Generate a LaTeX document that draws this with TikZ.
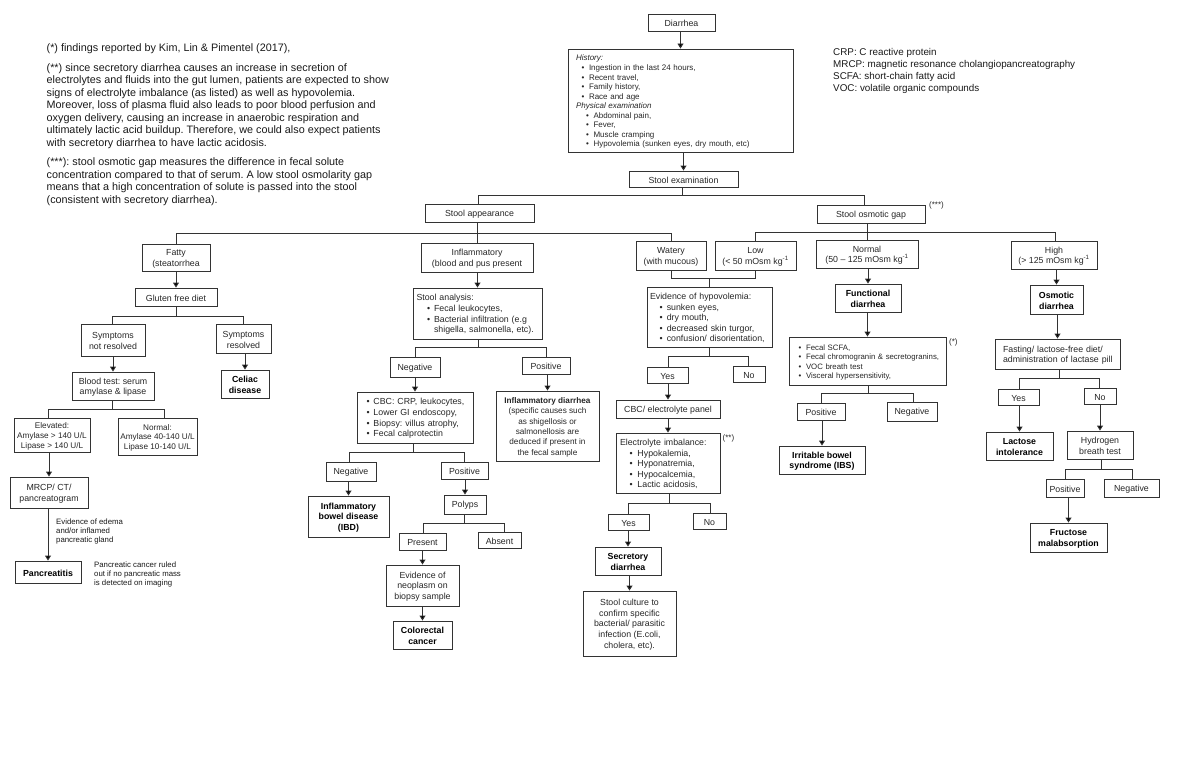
\documentclass[tikz,border=0pt]{standalone}
\usepackage{fontspec}
\setmainfont{Liberation Sans}
\usetikzlibrary{arrows.meta}
\newcommand{\fs}[2]{\fontsize{#1}{#2}\selectfont}
\tikzset{
  box/.style={draw=black!80,line width=0.9pt,inner sep=0pt,align=center,text=black!85,font=\fs{8.8}{10.6}},
  mainbox/.style={font=\fs{8.8}{10.6}\bfseries,text=black},
  conn/.style={draw=black!80,line width=0.9pt},
  arrow/.style={conn,-{Triangle[length=5pt,width=6pt,fill=black]}},
  note/.style={inner sep=0pt,anchor=north west,align=left,text=black!90},
  refmark/.style={inner sep=0pt,anchor=west,text=black!85,font=\fs{8}{9.6}}
}
\newcommand{\bx}[7][]{\node[box,minimum width={(#5-#3)*1pt},minimum height={(#6-#4)*1pt},#1] (#2) at ({(#3+#5)/2},{(#4+#6)/2}) {\rule{0pt}{8.5pt}#7};}
\newcommand{\lbx}[8][]{\pgfmathsetmacro{\mytw}{#5-#3-2*#7}\node[box,align=left,text width=\mytw pt,inner xsep=#7pt,minimum height={(#6-#4)*1pt},#1] (#2) at ({(#3+#5)/2},{(#4+#6)/2}) {\rule{0pt}{8.5pt}#8};}
\newcommand{\bul}[3]{\hspace*{#1pt}\makebox[#2pt][l]{\textbullet}\makebox[0pt][l]{#3}}
\newcommand{\nw}[1]{\makebox[0pt][l]{#1}}
\newcommand{\arr}[2]{\draw[arrow] (#1.south -| #2.north) -- (#2.north);}
\newcommand{\bus}[3]{\coordinate (#1-bus) at (#2,#3);\draw[conn] (#1.south -| #1-bus) -- (#1-bus);}
\newcommand{\drop}[3]{\coordinate (#2-top) at (#3,0);\draw[conn] (#1-bus) -| (#2-top |- #2.north);}
\begin{document}
\frenchspacing
\begin{tikzpicture}[x=1pt,y=-1pt]
\useasboundingbox (0,0) rectangle (1200,776);
% notes
\node[note,font=\fs{10.8}{12.45}] (noteA) at (46.5,43.3) {(*) findings reported by Kim, Lin \& Pimentel (2017),};
\node[note,font=\fs{10.8}{12.45}] (noteB) at (46.5,63.3) {(**) since secretory diarrhea causes an increase in secretion of\\electrolytes and fluids into the gut lumen, patients are expected to show\\signs of electrolyte imbalance (as listed) as well as hypovolemia.\\Moreover, loss of plasma fluid also leads to poor blood perfusion and\\oxygen delivery, causing an increase in anaerobic respiration and\\ultimately lactic acid buildup. Therefore, we could also expect patients\\with secretory diarrhea to have lactic acidosis.};
\node[note,font=\fs{10.8}{12.45}] (noteC) at (46.5,157.8) {(***): stool osmotic gap measures the difference in fecal solute\\concentration compared to that of serum. A low stool osmolarity gap\\means that a high concentration of solute is passed into the stool\\(consistent with secretory diarrhea).};
\node[note,font=\fs{9.85}{12}] (abbr) at (833,48) {CRP: C reactive protein\\MRCP: magnetic resonance cholangiopancreatography\\SCFA: short-chain fatty acid\\VOC: volatile organic compounds};
% top
\bx{diarrhea}{648}{14}{715}{31}{Diarrhea}
\lbx[font=\fs{8}{9.55}]{history}{568}{49}{793}{152}{8}{\textit{History:}\\\bul{5.5}{7.5}{Ingestion in the last 24 hours,}\\\bul{5.5}{7.5}{Recent travel,}\\\bul{5.5}{7.5}{Family history,}\\\bul{5.5}{7.5}{Race and age}\\\textit{Physical examination}\\\bul{10}{7.5}{Abdominal pain,}\\\bul{10}{7.5}{Fever,}\\\bul{10}{7.5}{Muscle cramping}\\\bul{10}{7.5}{Hypovolemia (sunken eyes, dry mouth, etc)}}
\bx{exam}{629}{171}{738}{187}{Stool examination}
\bx{appear}{425}{204}{534}{222}{Stool appearance}
\bx{gap}{817}{205}{925}{223}{Stool osmotic gap}
\node[refmark] (markC) at (929,205) {(***)};
% left branch
\bx{fatty}{142}{244}{210}{271}{Fatty\\(steatorrhea}
\bx{gluten}{135}{288}{217}{306}{Gluten free diet}
\bx{notres}{81}{324}{145}{356}{Symptoms\\not resolved}
\bx{res}{216}{324}{271}{353}{Symptoms\\resolved}
\bx[mainbox]{celiac}{221}{370}{269}{398}{Celiac\\disease}
\bx{blood}{72}{372}{154}{400}{Blood test: serum\\amylase \& lipase}
\bx[font=\fs{8.2}{9.8}]{elevated}{14}{418}{90}{452}{Elevated:\\Amylase > 140 U/L\\Lipase > 140 U/L}
\bx[font=\fs{8.2}{9.8}]{normalam}{118}{418}{197}{455}{Normal:\\Amylase 40-140 U/L\\Lipase 10-140 U/L}
\bx{mrcp}{10}{477}{88}{508}{MRCP/ CT/\\pancreatogram}
\bx[mainbox]{pancreatitis}{15}{561}{81}{583}{Pancreatitis}
\node[note,font=\fs{7.8}{9}] (edema) at (56,518.5) {Evidence of edema\\and/or inflamed\\pancreatic gland};
\node[note,font=\fs{7.8}{9}] (cancer) at (94,561.5) {Pancreatic cancer ruled\\out if no pancreatic mass\\is detected on imaging};
% inflammatory branch
\bx{inflam}{421}{243}{533}{272}{Inflammatory\\(blood and pus present}
\lbx{analysis}{413}{288}{542}{339}{3.5}{Stool analysis:\\\bul{10.5}{7}{Fecal leukocytes,}\\\bul{10.5}{7}{Bacterial infiltration (e.g}\\\hspace*{17.5pt}\nw{shigella, salmonella, etc).}}
\bx{neg}{390}{357}{440}{377}{Negative}
\bx{pos}{522}{357}{570}{374}{Positive}
\lbx{cbc}{357}{392}{473}{443}{8}{\bul{1.5}{7}{CBC: CRP, leukocytes,}\\\bul{1.5}{7}{Lower GI endoscopy,}\\\bul{1.5}{7}{Biopsy: villus atrophy,}\\\bul{1.5}{7}{Fecal calprotectin}}
\bx[font=\fs{8.2}{10.3}]{inflamd}{496}{391}{599}{461}{\textbf{Inflammatory diarrhea}\\(specific causes such\\as shigellosis or\\salmonellosis are\\deduced if present in\\the fecal sample}
\bx{negb}{326}{462}{376}{481}{Negative}
\bx{posb}{441}{462}{488}{479}{Positive}
\bx[mainbox]{ibd}{308}{496}{389}{537}{Inflammatory\\bowel disease\\(IBD)}
\bx{polyps}{444}{495}{486}{514}{Polyps}
\bx{present}{399}{533}{446}{550}{Present}
\bx{absent}{478}{532}{521}{548}{Absent}
\bx{neoplasm}{386}{565}{459}{606}{Evidence of\\neoplasm on\\biopsy sample}
\bx[mainbox]{colorectal}{393}{621}{452}{649}{Colorectal\\cancer}
% watery / low
\bx{watery}{636}{241}{706}{270}{Watery\\(with mucous)}
\bx{low}{715}{241}{796}{270}{Low\\(< 50 mOsm kg\textsuperscript{-1}}
\lbx{hypo}{647}{287}{772}{347}{3}{\nw{Evidence of hypovolemia:}\\\bul{9.5}{7.3}{sunken eyes,}\\\bul{9.5}{7.3}{dry mouth,}\\\bul{9.5}{7.3}{decreased skin turgor,}\\\bul{9.5}{7.3}{confusion/ disorientation,}}
\bx{yes}{647}{367}{688}{383}{Yes}
\bx{no}{733}{366}{765}{382}{No}
\bx{panel}{616}{400}{720}{418}{CBC/ electrolyte panel}
\lbx{electro}{616}{433}{720}{493}{4}{\nw{Electrolyte imbalance:}\\\bul{9.5}{8}{Hypokalemia,}\\\bul{9.5}{8}{Hyponatremia,}\\\bul{9.5}{8}{Hypocalcemia,}\\\bul{9.5}{8}{Lactic acidosis,}}
\node[refmark] (markB) at (722.5,438.5) {(**)};
\bx{yesb}{608}{514}{649}{530}{Yes}
\bx{nob}{693}{513}{726}{529}{No}
\bx[mainbox]{secretory}{595}{547}{661}{575}{Secretory\\diarrhea}
\bx{culture}{583}{591}{676}{656}{Stool culture to\\confirm specific\\bacterial/ parasitic\\infection (E.coli,\\cholera, etc).}
% normal
\bx{normal}{816}{240}{918}{268}{Normal\\(50 – 125 mOsm kg\textsuperscript{-1}}
\bx[mainbox]{functional}{835}{284}{901}{312}{Functional\\diarrhea}
\lbx[font=\fs{7.8}{9.6}]{fecal}{789}{337}{946}{385}{8}{\bul{1.5}{7.5}{Fecal SCFA,}\\\bul{1.5}{7.5}{Fecal chromogranin \& secretogranins,}\\\bul{1.5}{7.5}{VOC breath test}\\\bul{1.5}{7.5}{Visceral hypersensitivity,}}
\node[refmark] (markA) at (949,342.5) {(*)};
\bx{posc}{797}{403}{845}{420}{Positive}
\bx{negc}{887}{402}{937}{421}{Negative}
\bx[mainbox]{ibs}{779}{446}{865}{474}{Irritable bowel\\syndrome (IBS)}
% high
\bx{high}{1011}{241}{1097}{269}{High\\(> 125 mOsm kg\textsuperscript{-1}}
\bx[mainbox]{osmotic}{1030}{285}{1083}{314}{Osmotic\\diarrhea}
\lbx[font=\fs{8.8}{10.2}]{fasting}{995}{339}{1120}{369}{8}{\nw{Fasting/ lactose-free diet/}\\\nw{administration of lactase pill}}
\bx{yesc}{998}{389}{1039}{405}{Yes}
\bx{noc}{1084}{388}{1116}{404}{No}
\bx[mainbox]{lactose}{986}{432}{1053}{460}{Lactose\\intolerance}
\bx{hydrogen}{1067}{431}{1133}{459}{Hydrogen\\breath test}
\bx{posd}{1046}{479}{1084}{497}{Positive}
\bx{negd}{1104}{479}{1159}{497}{Negative}
\bx[mainbox]{fructose}{1030}{523}{1107}{552}{Fructose\\malabsorption}
% arrows
\arr{diarrhea}{history}\arr{history}{exam}
\arr{fatty}{gluten}\arr{notres}{blood}\arr{res}{celiac}\arr{elevated}{mrcp}\arr{mrcp}{pancreatitis}
\arr{inflam}{analysis}\arr{neg}{cbc}\arr{pos}{inflamd}\arr{negb}{ibd}\arr{posb}{polyps}\arr{present}{neoplasm}\arr{neoplasm}{colorectal}
\arr{yes}{panel}\arr{panel}{electro}\arr{yesb}{secretory}\arr{secretory}{culture}
\arr{normal}{functional}\arr{functional}{fecal}\arr{posc}{ibs}
\arr{high}{osmotic}\arr{osmotic}{fasting}\arr{yesc}{lactose}\arr{noc}{hydrogen}\arr{posd}{fructose}
% buses
\bus{exam}{682}{195}\drop{exam}{appear}{478}\drop{exam}{gap}{864}
\bus{appear}{477}{233}\drop{appear}{fatty}{176}\drop{appear}{inflam}{477}\drop{appear}{watery}{671}
\bus{gap}{867}{232}\drop{gap}{low}{755}\drop{gap}{normal}{867}\drop{gap}{high}{1055}
\bus{gluten}{176}{316}\drop{gluten}{notres}{112}\drop{gluten}{res}{243}
\bus{blood}{112}{409}\drop{blood}{elevated}{48}\drop{blood}{normalam}{164}
\bus{analysis}{478}{347}\drop{analysis}{neg}{415}\drop{analysis}{pos}{546}
\bus{cbc}{413}{452}\drop{cbc}{negb}{349}\drop{cbc}{posb}{464}
\bus{polyps}{464}{523}\drop{polyps}{present}{423}\drop{polyps}{absent}{504}
\bus{hypo}{709}{356}\drop{hypo}{yes}{668}\drop{hypo}{no}{748}
\bus{electro}{669}{503}\drop{electro}{yesb}{628}\drop{electro}{nob}{710}
\bus{fecal}{868}{393}\drop{fecal}{posc}{821}\drop{fecal}{negc}{913}
\bus{fasting}{1059}{378}\drop{fasting}{yesc}{1019}\drop{fasting}{noc}{1099}
\bus{hydrogen}{1101}{469}\drop{hydrogen}{posd}{1065}\drop{hydrogen}{negd}{1132}
% watery + low join
\coordinate (join) at (709,278);
\draw[conn] (watery.south) |- (join);
\draw[conn] (low.south) |- (join);
\draw[conn] (join) -- (hypo.north -| join);
\end{tikzpicture}
\end{document}
